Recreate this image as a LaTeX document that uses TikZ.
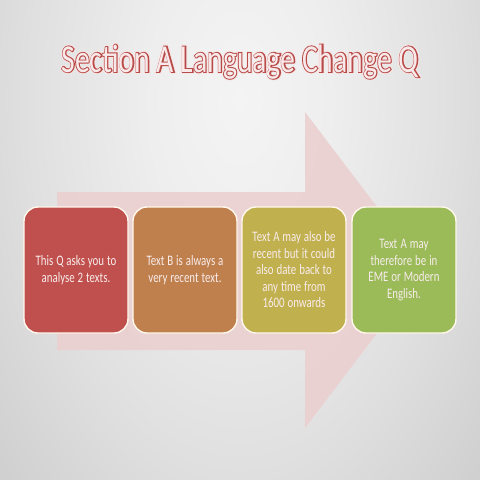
\documentclass[tikz,border=0pt]{standalone}
\usepackage{fontspec}
\setmainfont{Carlito}
\newfontfamily\slidefont{Carlito}[FakeStretch=0.75]
\newfontfamily\titlefont{Carlito}[FakeStretch=0.75]
\usetikzlibrary{calc}
\definecolor{bgtop}{HTML}{F4F4F4}
\definecolor{bgA}{HTML}{EEEEEE}
\definecolor{bgB}{HTML}{E0E0E0}
\definecolor{bgC}{HTML}{CACACA}
\definecolor{bgD}{HTML}{ACACAC}
\definecolor{bgE}{HTML}{A0A0A0}
\definecolor{bgF}{HTML}{989898}
\definecolor{arrowpink}{HTML}{EBD0D0}
\definecolor{boxred}{HTML}{C0504D}
\definecolor{boxorange}{HTML}{C0804D}
\definecolor{boxolive}{HTML}{C1B04E}
\definecolor{boxgreen}{HTML}{9BBB59}
\definecolor{boxedge}{HTML}{FFF8EC}
\definecolor{boxtext}{HTML}{F8ECEC}
\definecolor{titlefill}{HTML}{F8EAEA}
\pgfdeclareradialshading{bgrad}{\pgfpoint{0bp}{0bp}}{color(0bp)=(bgtop);color(6.25bp)=(bgA);color(14.6bp)=(bgB);color(25bp)=(bgC);color(33.3bp)=(bgD);color(41.7bp)=(bgE);color(50bp)=(bgF)}
\newcommand{\tightspaces}{\spaceskip=2.7pt plus 0.5pt minus 0.3pt\relax}
\tikzset{
  stepbox/.style={draw=boxedge, line width=1.4pt, rounded corners=14pt,
    minimum width=104pt, minimum height=126pt, text width=100pt, align=center,
    text=boxtext, inner sep=0pt,
    font=\slidefont\fontsize{14.5pt}{16.5pt}\selectfont},
  titletext/.style={font=\titlefont\fontsize{39.6pt}{44pt}\selectfont, inner sep=0pt, anchor=base},
}
% outlined text via PDF text render mode
\newcommand{\strokedtext}[3]{\special{pdf:literal direct 2 Tr #1 w #2 RG}#3\special{pdf:literal direct 0 Tr}}
\newcommand{\mytitle}{Section A Language Change Q}
\begin{document}
\begin{tikzpicture}[x=1pt,y=-1pt]
\useasboundingbox (0,0) rectangle (480,480);
\begin{scope}
\clip (0,0) rectangle (480,480);
\shade[shading=bgrad] (240,100) ellipse [x radius=360pt, y radius=624pt];
\end{scope}
% big arrow
\fill[arrowpink, opacity=0.9] (57,192) -- (305,192) -- (305,112) -- (425,270)
  -- (305,428) -- (305,350) -- (57,350) -- cycle;
% title: glow, red outline, pale fill
\node[titletext, text=white!90!red] (titleglow) at (240,72) {\strokedtext{3.8}{0.96 0.91 0.91}{\mytitle}};
\node[titletext, text=red!70!black] (titleline) at (240,72) {\strokedtext{1.9}{0.72 0.29 0.28}{\mytitle}};
\node[titletext, text=titlefill] (title) at (240,72) {\mytitle};
% boxes
\node[stepbox, fill=boxred] (b1) at (76,270) {\tightspaces This Q asks you to\\ analyse 2 texts.};
\node[stepbox, fill=boxorange] (b2) at (185,270) {\tightspaces Text B is always a\\ very recent text.};
\node[stepbox, fill=boxolive] (b3) at (294,270) {\tightspaces Text A may also be\\ recent but it could\\ also date back to\\ any time from\\ 1600 onwards};
\node[stepbox, fill=boxgreen] (b4) at (404,270) {\tightspaces Text A may\\ therefore be in\\ EME or Modern\\ English.};
\end{tikzpicture}
\end{document}
